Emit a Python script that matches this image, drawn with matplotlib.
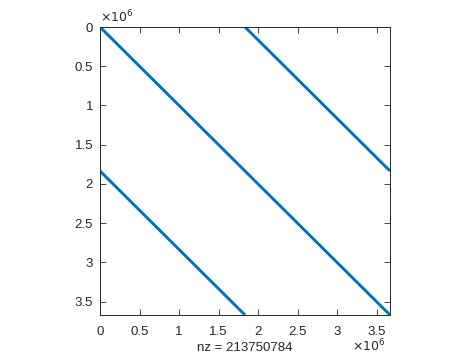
import matplotlib
matplotlib.use("Agg")
import matplotlib.pyplot as plt
import numpy as np

# Data
n = 3670016
offsets = [0, n // 2, -(n // 2)]   # diagonal offsets (column - row)
nz = 213750784
tick_vals = [0, 0.5, 1, 1.5, 2, 2.5, 3, 3.5]
tick_labels = ["0", "0.5", "1", "1.5", "2", "2.5", "3", "3.5"]

plt.rcParams['font.family'] = ['Liberation Sans', 'DejaVu Sans']
fig = plt.figure(figsize=(4.74, 3.55), dpi=100)
ax = fig.add_axes([100/474, 1 - 315/355, 290/474, 288/355])

blue = '#0072BD'
for k in offsets:
    r0 = max(0, -k)
    c0 = max(0, k)
    length = n - abs(k)
    ax.plot([c0, c0 + length], [r0, r0 + length], color=blue, lw=2.1,
            solid_capstyle='butt')

ax.set_xlim(0, n)
ax.set_ylim(n, 0)
ticks = [v * 1e6 for v in tick_vals]
ax.set_xticks(ticks)
ax.set_xticklabels(tick_labels)
ax.set_yticks(ticks)
ax.set_yticklabels(tick_labels)
ax.tick_params(direction='in', top=True, right=True, length=4, width=0.6,
               labelsize=9.5, colors='#262626', pad=5)
ax.tick_params(axis='x', pad=8)
for s in ax.spines.values():
    s.set_linewidth(0.7)
    s.set_color('#262626')

ax.set_xlabel(f"nz = {nz}", fontsize=9.5, color='#262626', labelpad=3)
ax.text(0.0, 1.005, r"$\times10^{6}$", transform=ax.transAxes, fontsize=9,
        color='#262626', ha='left', va='bottom')
ax.text(0.985, -0.08, r"$\times10^{6}$", transform=ax.transAxes, fontsize=9,
        color='#262626', ha='right', va='top')

fig.savefig("out.png", dpi=100)
